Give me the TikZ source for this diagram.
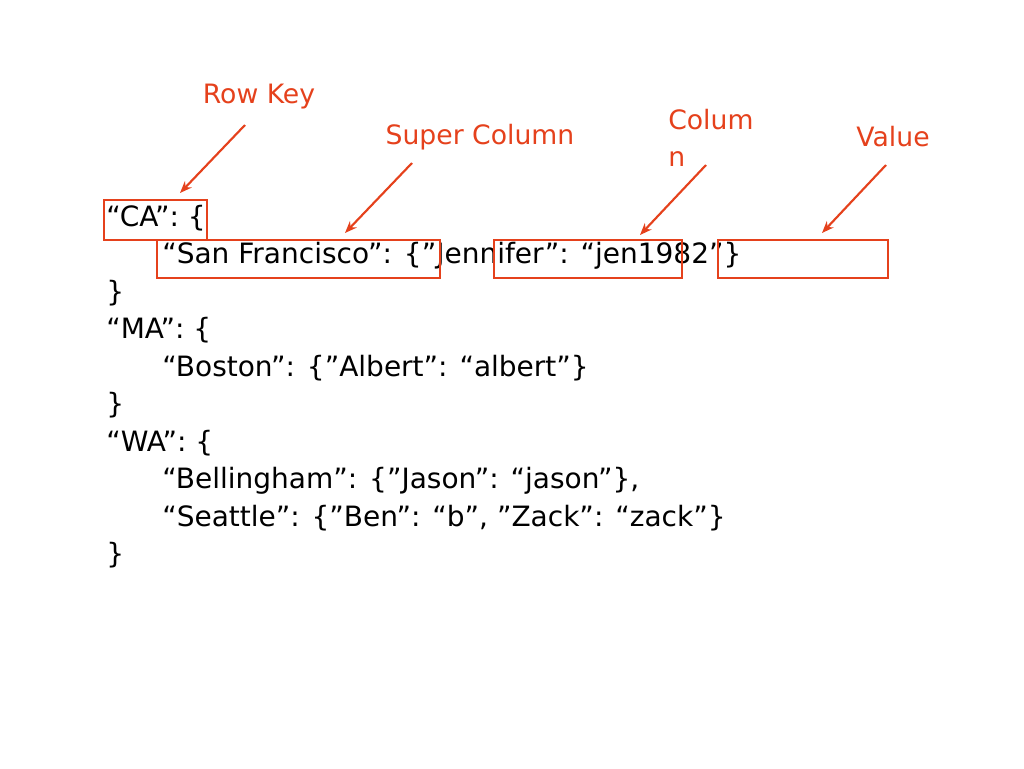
\documentclass[tikz,border=0pt]{standalone}
\usepackage{fontspec}
\setmainfont{DejaVu Sans}
\usetikzlibrary{arrows.meta}
\definecolor{rd}{HTML}{E5411C}
\begin{document}
\begin{tikzpicture}[x=0.75pt,y=-0.75pt,
  code/.style={anchor=base west,inner sep=0,font=\fontsize{21}{23}\selectfont},
  lbl/.style={text=rd,inner sep=0,font=\fontsize{20}{22}\selectfont},
  box/.style={draw=rd,line width=1.2pt},
  arr/.style={draw=rd,line width=1.6pt,-{Stealth[length=9pt,width=7pt]}}]
\useasboundingbox (0,0) rectangle (1024,768);
\foreach \t/\x [count=\i from 0] in {{“CA”: \{}/106,{“San Francisco”: \{”Jennifer”: “jen1982”\}}/162,{\}}/106,{“MA”: \{}/106,{“Boston”: \{”Albert”: “albert”\}}/162,{\}}/106,{“WA”: \{}/106,{“Bellingham”: \{”Jason”: “jason”\},}/162,{“Seattle”: \{”Ben”: “b”, ”Zack”: “zack”\}}/162,{\}}/106}
  \node[code] (l\i) at (\x,{226+37.5*\i}) {\t};
\draw[box] (104,200) rectangle (207,240);
\draw[box] (157,240) rectangle (440,278);
\draw[box] (494,240) rectangle (682,278);
\draw[box] (718,240) rectangle (888,278);
\node[lbl] (rk) at (259,97) {Row Key};
\node[lbl] (sc) at (480,137) {Super Column};
\node[lbl,anchor=west,align=left,font=\fontsize{20}{28}\selectfont] (co) at (668,138) {Colum\\n};
\node[lbl] (va) at (893,137) {Value};
\coordinate (a1) at (245,125); \coordinate (b1) at (180,193);
\coordinate (a2) at (412,163); \coordinate (b2) at (345,233);
\coordinate (a3) at (706,165); \coordinate (b3) at (640,235);
\coordinate (a4) at (886,165); \coordinate (b4) at (822,233);
\draw[arr] (a1)--(b1); \draw[arr] (a2)--(b2); \draw[arr] (a3)--(b3); \draw[arr] (a4)--(b4);
\end{tikzpicture}
\end{document}
